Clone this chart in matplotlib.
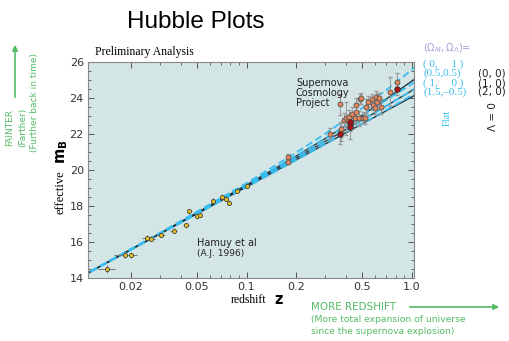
import matplotlib
matplotlib.use('Agg')
import matplotlib.pyplot as plt
from matplotlib.ticker import FixedLocator, NullFormatter, MultipleLocator

# low redshift supernovae (Calan/Tololo)
lowz_z = [0.0144, 0.0184, 0.0200, 0.0251, 0.0263, 0.0306, 0.0362, 0.0431, 0.0452,
          0.0505, 0.0521, 0.0630, 0.0708, 0.0749, 0.0789, 0.0878, 0.101]
lowz_m = [14.50, 15.28, 15.28, 16.24, 16.18, 16.41, 16.63, 16.93, 17.71,
          17.44, 17.52, 18.29, 18.52, 18.41, 18.18, 18.85, 19.13]
lowz_merr = [0.2, 0.15, 0.15, 0.15, 0.15, 0.15, 0.15, 0.15, 0.15,
             0.15, 0.15, 0.15, 0.15, 0.15, 0.15, 0.15, 0.15]
lowz_zerr = [0.0017, 0.0025, 0.0017, 0.0017, 0.0017, 0.0017, 0.0017, 0.0017, 0.0017,
             0.0017, 0.0017, 0.0017, 0.0017, 0.0017, 0.0017, 0.0017, 0.0017]

# high redshift supernovae (Supernova Cosmology Project)
highz_z = [0.178, 0.178, 0.318, 0.366, 0.371, 0.370, 0.374, 0.389, 0.400, 0.411,
           0.415, 0.420, 0.420, 0.426, 0.437, 0.451, 0.458, 0.461, 0.478, 0.487,
           0.494, 0.505, 0.520, 0.530, 0.546, 0.570, 0.578, 0.597, 0.606, 0.618,
           0.635, 0.651, 0.742, 0.818, 0.818]
highz_m = [20.75, 20.47, 22.02, 22.02, 22.13, 23.65, 22.26, 22.78, 22.87, 22.78,
           22.96, 22.68, 22.41, 22.59, 23.09, 22.87, 23.24, 23.61, 22.87, 23.94,
           23.98, 22.91, 22.87, 23.52, 23.80, 23.94, 23.61, 23.43, 24.07, 23.80,
           23.98, 23.52, 24.35, 24.91, 24.48]
highz_err = [0.15, 0.15, 0.3, 0.6, 0.5, 0.6, 0.4, 0.4, 0.9, 0.3,
             0.4, 0.5, 0.7, 0.3, 0.4, 0.3, 0.5, 0.4, 0.4, 0.3,
             0.3, 0.3, 0.3, 0.4, 0.3, 0.3, 0.3, 0.3, 0.3, 0.4,
             0.3, 0.4, 0.8, 0.5, 0.3]
highz_dark = [0, 0, 0, 1, 0, 0, 0, 0, 0, 0,
              0, 1, 1, 0, 0, 0, 0, 0, 0, 0,
              0, 0, 0, 0, 0, 0, 0, 0, 0, 0,
              0, 0, 0, 0, 1]

# model curves
model_z = [0.01, 0.03, 0.1, 0.2, 0.3, 0.5, 0.7, 1.0, 1.05]
flat_0_1 = [14.09, 16.51, 19.27, 20.97, 22.02, 23.44, 24.44, 25.57, 25.73]
flat_05_05 = [14.07, 16.49, 19.19, 20.80, 21.77, 23.03, 23.88, 24.78, 24.91]
flat_1_0 = [14.07, 16.47, 19.12, 20.67, 21.59, 22.77, 23.56, 24.41, 24.52]
flat_15_m05 = [14.06, 16.44, 19.05, 20.55, 21.44, 22.57, 23.33, 24.15, 24.26]
open_0_0 = [14.08, 16.48, 19.17, 20.78, 21.75, 23.04, 23.94, 24.94, 25.09]
open_1_0 = [14.07, 16.47, 19.12, 20.67, 21.59, 22.77, 23.56, 24.41, 24.52]
open_2_0 = [14.06, 16.45, 19.06, 20.57, 21.45, 22.56, 23.29, 24.06, 24.17]

xticks = [0.02, 0.05, 0.1, 0.2, 0.5, 1.0]
xticklabels = ['0.02', '0.05', '0.1', '0.2', '0.5', '1.0']

W, H = 509, 341
def px(x, y):
    return x / W, 1 - y / H

green = '#55bb66'
cyan = '#38bdf0'

fig = plt.figure(figsize=(5.09, 3.41), dpi=100)
ax = fig.add_axes([88 / W, 1 - 278 / H, (414 - 88) / W, (278 - 62) / H])
ax.set_facecolor('#d4e5e5')

for m in [open_0_0, open_1_0, open_2_0]:
    ax.plot(model_z, m, color='#1c3a48', lw=1.0, zorder=2)
for m in [flat_0_1, flat_05_05, flat_1_0, flat_15_m05]:
    ax.plot(model_z, m, color=cyan, lw=1.3, ls=(0, (4, 2)), zorder=3)

ax.errorbar(lowz_z, lowz_m, yerr=lowz_merr, xerr=lowz_zerr, fmt='o', ms=3.0,
            mfc='#e8c020', mec='#444444', mew=0.6, ecolor='#777777', elinewidth=0.7,
            capsize=0, zorder=4)

ax.errorbar(highz_z, highz_m, yerr=highz_err, fmt='none', ecolor='#999999',
            elinewidth=0.7, capsize=1.5, zorder=4)
for z, m, d in zip(highz_z, highz_m, highz_dark):
    if d:
        ax.plot(z, m, 'o', ms=4.0, mfc='#b0101a', mec='#333333', mew=0.6, zorder=6)
    else:
        ax.plot(z, m, 'o', ms=3.6, mfc='#e8845a', mec='#555555', mew=0.6, zorder=5)

ax.set_xscale('log')
ax.set_xlim(0.011, 1.03)
ax.set_ylim(14, 26)
ax.xaxis.set_major_locator(FixedLocator(xticks))
ax.set_xticklabels(xticklabels)
ax.xaxis.set_minor_formatter(NullFormatter())
ax.yaxis.set_major_locator(MultipleLocator(2))
ax.yaxis.set_minor_locator(MultipleLocator(0.5))
ax.tick_params(which='both', direction='in', top=True, right=True, colors='#555555',
               labelcolor='#333333', labelsize=8, pad=3)
ax.tick_params(which='major', length=4, width=0.7)
ax.tick_params(which='minor', length=2, width=0.6)
for s in ax.spines.values():
    s.set_color('#888888')
    s.set_linewidth(0.8)

# texts inside the axes area
fig.text(*px(296, 83), 'Supernova', fontsize=7, color='#222222', va='center')
fig.text(*px(296, 93), 'Cosmology', fontsize=7, color='#222222', va='center')
fig.text(*px(296, 103), 'Project', fontsize=7, color='#222222', va='center')
fig.text(*px(197, 243), 'Hamuy et al', fontsize=7, color='#222222', va='center')
fig.text(*px(197, 254), '(A.J. 1996)', fontsize=6.5, color='#222222', va='center')

fig.text(*px(196, 22), 'Hubble Plots', fontsize=17.5, family='Liberation Sans',
         ha='center', va='center')
fig.text(*px(95, 52), 'Preliminary Analysis', fontsize=8.5, family='Liberation Serif',
         va='center')
fig.text(*px(61, 192), 'effective', fontsize=9, family='Liberation Serif',
         rotation=90, ha='center', va='center')
fig.text(*px(62, 152), r'$\mathbf{m}_{\mathbf{B}}$', fontsize=10.5, rotation=90,
         ha='center', va='center')
fig.text(*px(249, 300), 'redshift', fontsize=8.5, family='Liberation Serif',
         ha='center', va='center')
fig.text(*px(279, 299), r'$\mathbf{z}$', fontsize=10.5, ha='center', va='center')

# legend block on the right
fig.text(*px(423, 48), r'$(\Omega_M,\Omega_\Lambda)$=', fontsize=7, color='#a99ad6',
         va='center')
cyan_labels = ['( 0,     1 )', '(0.5,0.5)', '( 1,     0 )', '(1.5,\u20130.5)']
cyan_y = [64, 73, 83, 92]
for lab, y in zip(cyan_labels, cyan_y):
    fig.text(*px(423, y), lab, fontsize=8, family='Liberation Serif', color=cyan,
             va='center')
black_labels = ['(0, 0)', '(1, 0)', '(2, 0)']
for lab, y in zip(black_labels, cyan_y[1:]):
    fig.text(*px(478, y), lab, fontsize=7.5, color='#222222', va='center')
fig.text(*px(447, 118), 'Flat', fontsize=7.5, family='Liberation Serif', color=cyan,
         rotation=90, ha='center', va='center')
fig.text(*px(493, 117), '\u039b = 0', fontsize=7.5, color='#222222',
         rotation=90, ha='center', va='center')

# green annotations
fig.text(*px(10, 128), 'FAINTER', fontsize=6.5, color=green, rotation=90,
         ha='center', va='center')
fig.text(*px(23, 127), '(Farther)', fontsize=6.5, color=green, rotation=90,
         ha='center', va='center')
fig.text(*px(35, 103), '(Further back in time)', fontsize=6.5, color=green,
         rotation=90, ha='center', va='center')
fig.add_artist(matplotlib.patches.FancyArrowPatch(px(15, 100), px(15, 42),
               transform=fig.transFigure, arrowstyle='-|>', mutation_scale=8,
               color=green, lw=1.2))

fig.text(*px(311, 307), 'MORE REDSHIFT', fontsize=7.5, color=green, va='center')
fig.text(*px(311, 319), '(More total expansion of universe', fontsize=6.6,
         color=green, va='center')
fig.text(*px(311, 331), 'since the supernova explosion)', fontsize=6.6,
         color=green, va='center')
fig.add_artist(matplotlib.patches.FancyArrowPatch(px(407, 307), px(502, 307),
               transform=fig.transFigure, arrowstyle='-|>', mutation_scale=8,
               color=green, lw=1.2))

fig.savefig('out.png', dpi=100)
